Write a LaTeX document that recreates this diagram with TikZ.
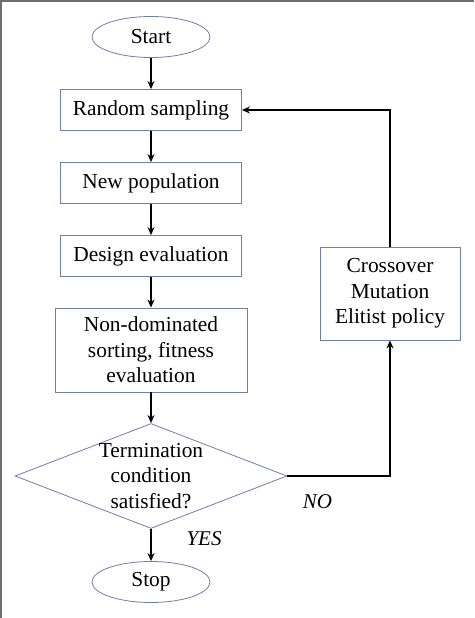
\documentclass[tikz,border=0pt]{standalone}
\usepackage{fontspec}
\setmainfont{Liberation Serif}
\usepackage{tikz}
\definecolor{bordercolor}{RGB}{108,126,170}
\definecolor{framecolor}{RGB}{110,110,110}
\usetikzlibrary{arrows.meta,shapes.geometric,positioning}
\tikzset{
	box/.style={
		rectangle,
		draw=bordercolor,
		line width=0.8pt,
		fill=white,
		minimum height=41pt,
		minimum width=181pt,
		inner sep=0pt,
		align=center
	},
	terminal/.style={
		ellipse,
		draw=bordercolor,
		line width=0.8pt,
		fill=white,
		minimum height=41pt,
		minimum width=118pt,
		inner sep=0pt
	},
	decision/.style={
		diamond,
		draw=bordercolor,
		line width=0.8pt,
		aspect=2.6,
		minimum width=272pt,
		minimum height=105pt,
		inner sep=-4pt,
		align=center
	},
	arrow/.style={
		draw=black,
		line width=2.4pt,
		->,
		>={Stealth[length=8pt,width=7pt]}
	},
	answer/.style={
		font=\fontsize{21}{25.5}\selectfont\itshape
	},
}

\begin{document}
\begin{tikzpicture}[x=1pt,y=1pt,node distance=73pt,font=\fontsize{21.4}{25.5}\selectfont]
				\useasboundingbox (0,0) rectangle (474,618);
				\draw[framecolor, line width=2pt] (1,0) -- (1,617) -- (474,617);
				
				\node [terminal] (start) at (151,581) {Start};
				\node [box] (sampling) [below of = start] {Random sampling};
				\node [box] (population) [below of = sampling] {New population};
				\node [box] (design) [below of = population] {Design evaluation};
				\node [box,minimum width=192pt,minimum height=84pt] (sorting) [node distance=94pt,below of = design] {Non-dominated\\sorting, fitness\\evaluation};
				\node [decision] (termination) [node distance=126pt,below of = sorting] {Termination\\condition\\satisfied?};
				\node [terminal] (stop) [node distance=106pt,below of = termination] {Stop};
				\node [box,minimum width=140pt,minimum height=93pt] (operators) at (390,324.5) {Crossover\\Mutation\\Elitist policy};
				
				\path
				(start) edge[arrow] (sampling)
				(sampling) edge[arrow] (population)
				(population) edge[arrow] (design)
				(design) edge[arrow] (sorting)
				(sorting) edge[arrow] (termination)
				(termination) edge[arrow] node[answer,right,pos=0.3,xshift=31pt] {YES} (stop)
				;
				\draw[arrow] (termination.east) -| node[answer,pos=0.146,yshift=-26pt] {NO} (operators.south);
				\draw[arrow] (operators.north) |- (sampling.east);
				\end{tikzpicture}
\end{document}
